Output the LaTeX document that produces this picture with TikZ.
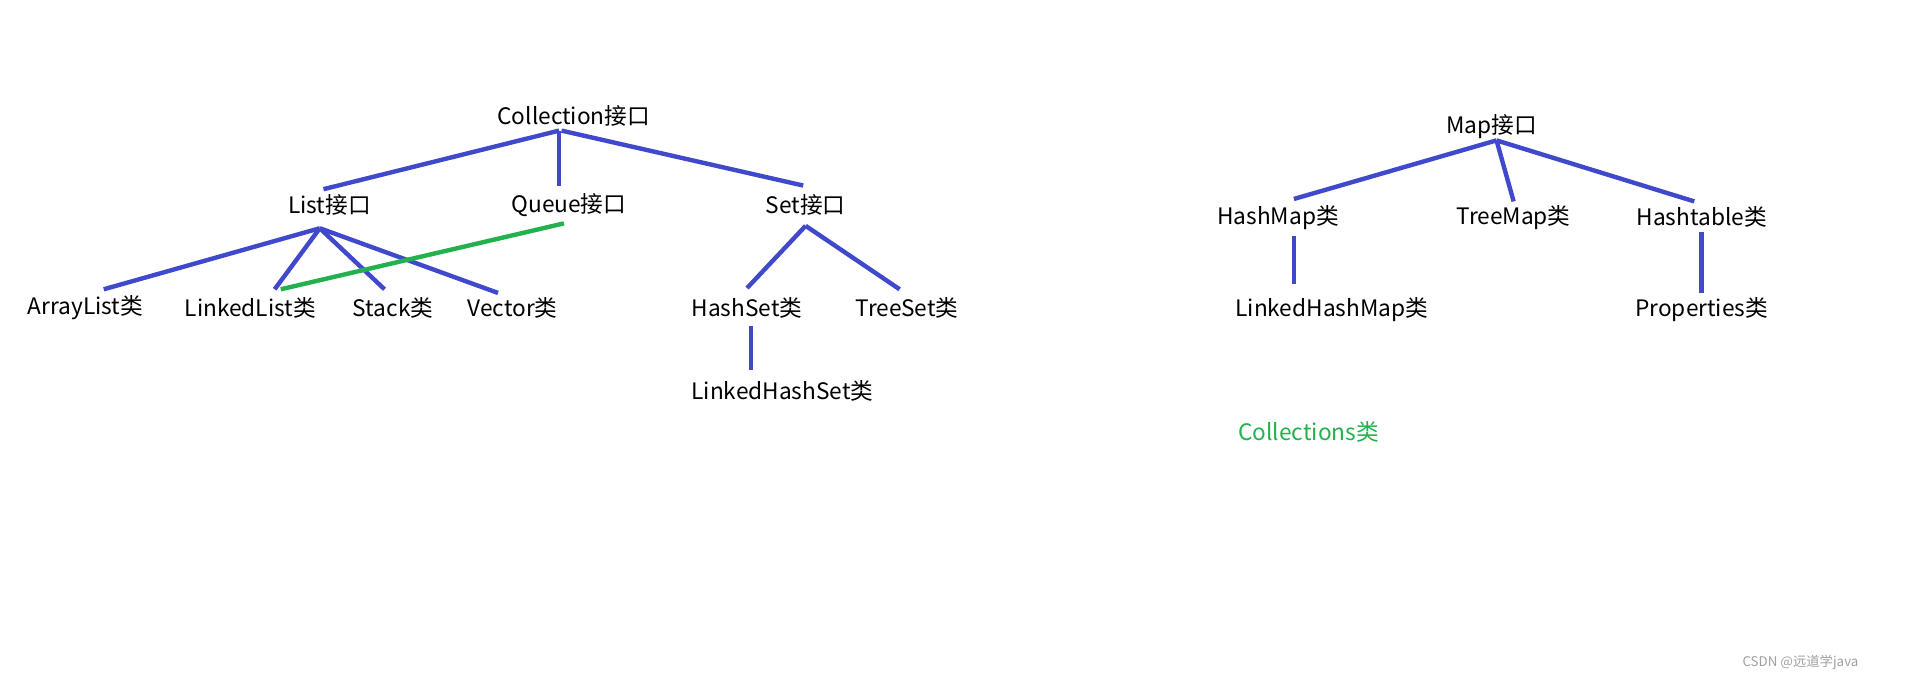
\documentclass[tikz,border=0pt]{standalone}
\usepackage{fontspec}
\setmainfont{Noto Sans CJK SC}
\begin{document}
\begin{tikzpicture}[x=0.9155pt,y=-0.9155pt,
  lbl/.style={inner sep=0pt,font=\fontsize{17}{20}\selectfont},
  ln/.style={line width=3.3pt,draw={rgb,255:red,64;green,72;blue,204}},
  gl/.style={line width=3.3pt,draw={rgb,255:red,34;green,177;blue,76}}]
\useasboundingbox (0,0) rectangle (1568,561);
\node[lbl] (coll) at (470,95) {Collection接口};
\node[lbl] (list) at (270,168) {List接口};
\node[lbl] (queue) at (466,168) {Queue接口};
\node[lbl] (set) at (660,168) {Set接口};
\node[lbl] (al) at (70,252) {ArrayList类};
\node[lbl] (ll) at (205,252) {LinkedList类};
\node[lbl] (st) at (322,252) {Stack类};
\node[lbl] (ve) at (420,252) {Vector类};
\node[lbl] (hs) at (612,252) {HashSet类};
\node[lbl] (ts) at (743,252) {TreeSet类};
\node[lbl] (lhs) at (641,320) {LinkedHashSet类};
\node[lbl] (map) at (1222,104) {Map接口};
\node[lbl] (hm) at (1047,178) {HashMap类};
\node[lbl] (tm) at (1240,178) {TreeMap类};
\node[lbl] (ht) at (1394,178) {Hashtable类};
\node[lbl] (lhm) at (1091,254) {LinkedHashMap类};
\node[lbl] (pr) at (1394,254) {Properties类};
\node[lbl,text={rgb,255:red,34;green,177;blue,76}] (cs) at (1072,354) {Collections类};
\node[inner sep=0pt,font=\fontsize{10}{12}\selectfont,text={rgb,255:red,160;green,160;blue,160}] (wm) at (1475,543) {CSDN @远道学java};
\coordinate (c0) at (458,107);
\draw[ln] (c0) -- (265,155);
\draw[ln] (c0) -- (458,152);
\draw[ln] (460,107) -- (658,152);
\coordinate (l0) at (262,187);
\draw[ln] (l0) -- (85,237);
\draw[ln] (l0) -- (225,237);
\draw[ln] (l0) -- (315,237);
\draw[ln] (l0) -- (408,240);
\draw[gl] (462,183) -- (230,237);
\coordinate (s0) at (660,185);
\draw[ln] (s0) -- (612,236);
\draw[ln] (s0) -- (737,237);
\draw[ln] (615,267) -- (615,303);
\coordinate (m0) at (1226,115);
\draw[ln] (m0) -- (1060,163);
\draw[ln] (m0) -- (1240,165);
\draw[ln] (m0) -- (1388,165);
\draw[ln] (1060,193) -- (1060,233);
\draw[ln] (1394,190) -- (1394,240);
\end{tikzpicture}
\end{document}
